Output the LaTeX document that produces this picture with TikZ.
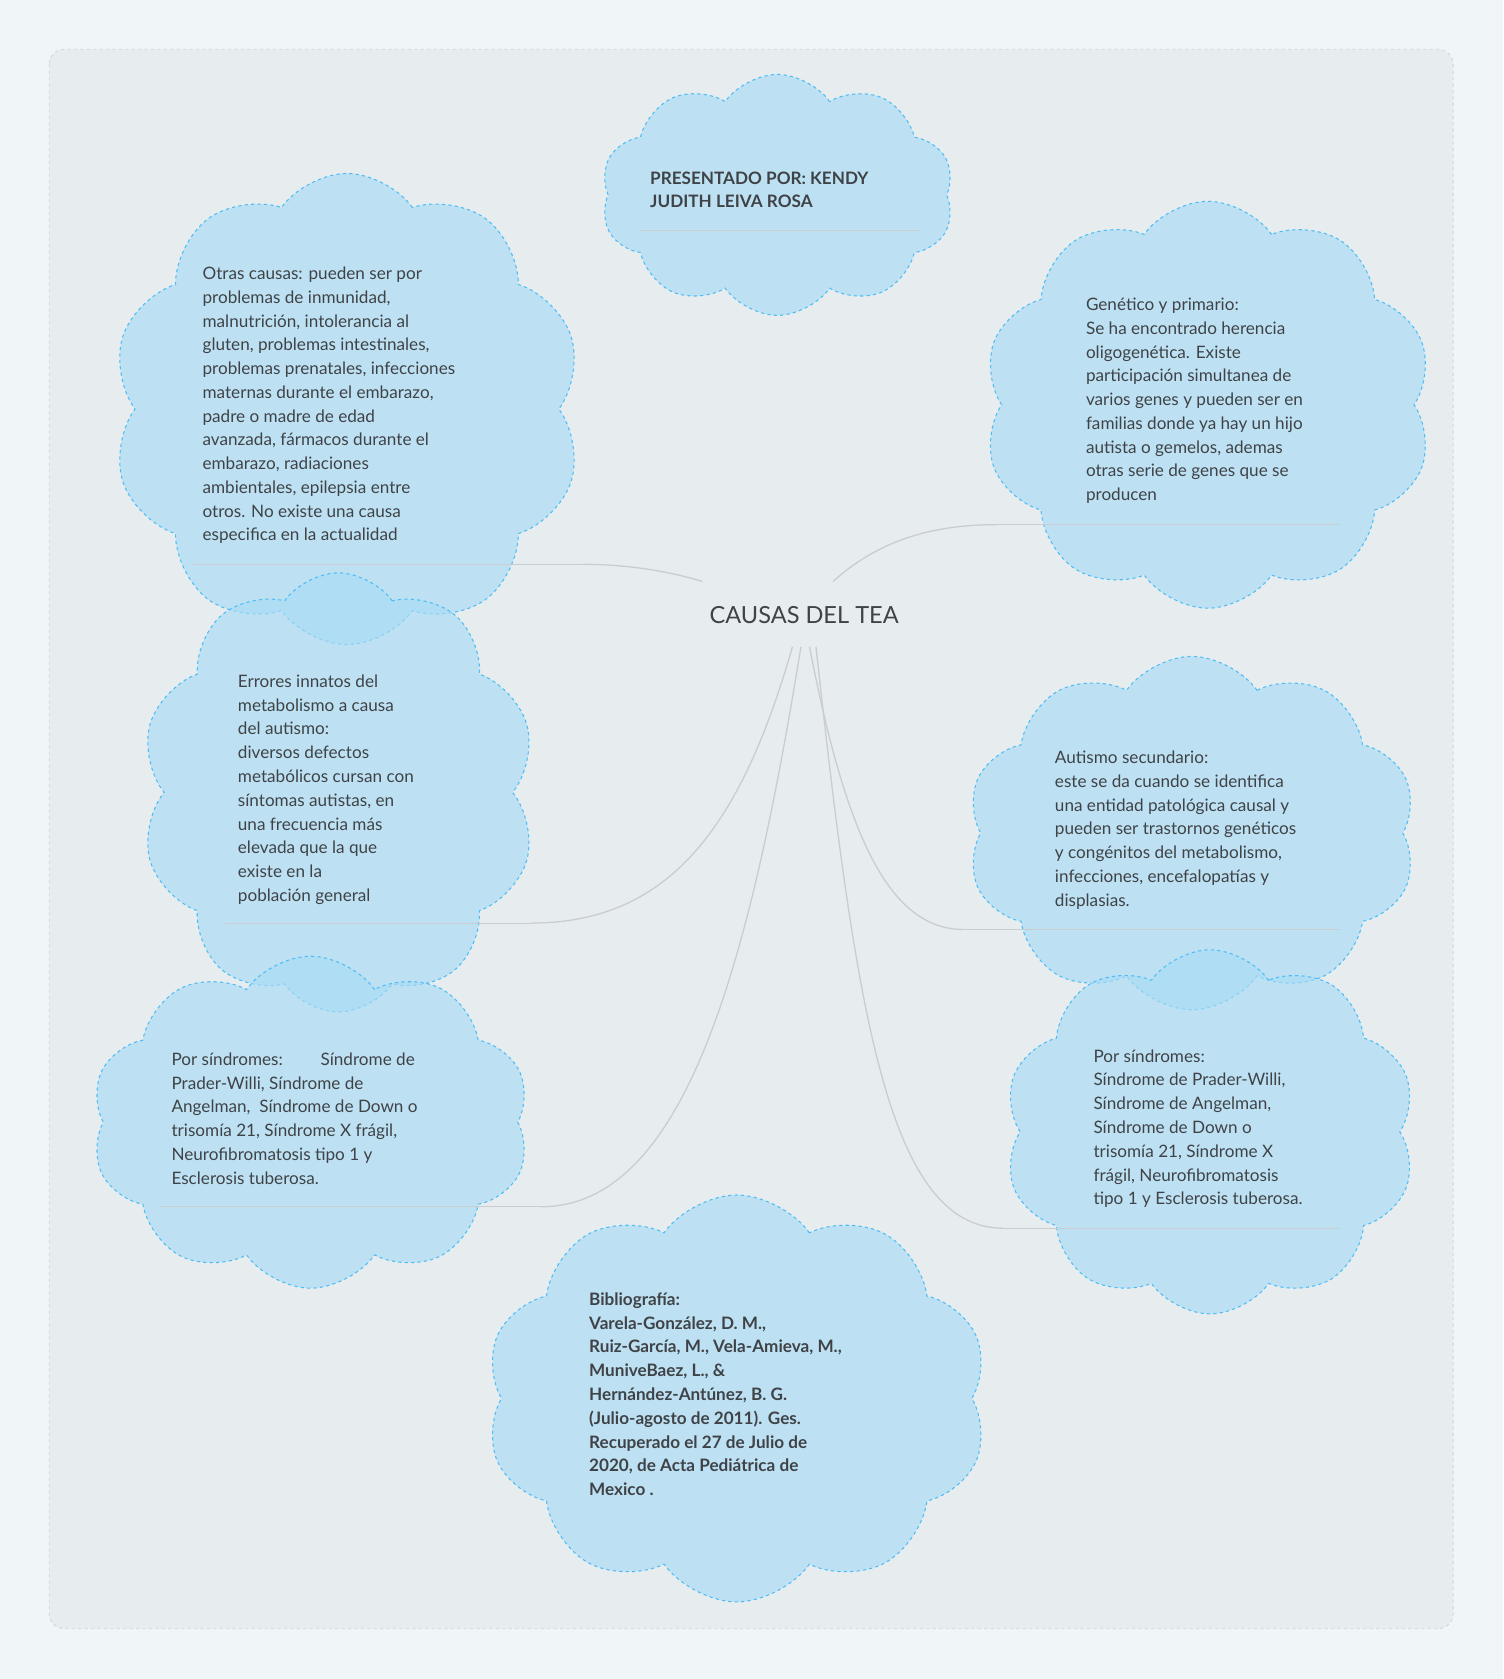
\documentclass[tikz,border=0pt]{standalone}
\usepackage{fontspec}
\setmainfont{Lato}
\usetikzlibrary{shapes.symbols}
\definecolor{pagebg}{HTML}{F0F5F8}
\definecolor{panel}{HTML}{E7ECEF}
\definecolor{cloudfill}{HTML}{A8DCF6}
\definecolor{cloudline}{HTML}{4FBDF5}
\definecolor{txt}{HTML}{3F4347}
\definecolor{conn}{HTML}{C9CDD0}
\tikzset{
 cl/.style={cloud, cloud puffs=10, cloud puff arc=110, draw=cloudline, dashed, line width=1pt,
   fill=cloudfill, fill opacity=0.65, inner sep=0pt},
 tx/.style={anchor=north west, align=left, text=txt, font=\fontsize{16}{22.2}\selectfont, inner sep=0pt},
 ul/.style={draw=conn, line width=0.8pt},
 cn/.style={draw=conn, line width=1.2pt}
}
\begin{document}
\begin{tikzpicture}[x=1pt,y=-1pt]
\fill[pagebg] (0,0) rectangle (1404,1568);
\useasboundingbox (0,0) rectangle (1404,1568);
\draw[panel!80!gray, dashed, fill=panel, rounded corners=14pt, line width=0.8pt] (46,46) rectangle (1357,1521);

\node[cl, minimum width=330pt, minimum height=225pt] (c1) at (726,182) {};
\node[cl, minimum width=440pt, minimum height=440pt] (c2) at (324,382) {};
\node[cl, minimum width=420pt, minimum height=380pt] (c3) at (1128,378) {};
\node[cl, minimum width=370pt, minimum height=410pt] (c4) at (316,740) {};
\node[cl, minimum width=420pt, minimum height=330pt] (c5) at (1113,778) {};
\node[cl, minimum width=410pt, minimum height=310pt] (c6) at (290,1048) {};
\node[cl, minimum width=385pt, minimum height=340pt] (c7) at (1130,1057) {};
\node[cl, minimum width=470pt, minimum height=380pt] (c8) at (688,1306) {};

\node[tx, font=\fontsize{16}{22.2}\bfseries\selectfont] (t1) at (607,160) {PRESENTADO POR: KENDY\\JUDITH LEIVA ROSA};
\node[tx] (t2) at (189,249) {Otras causas: pueden ser por\\problemas de inmunidad,\\malnutrición, intolerancia al\\gluten, problemas intestinales,\\problemas prenatales, infecciones\\maternas durante el embarazo,\\padre o madre de edad\\avanzada, fármacos durante el\\embarazo, radiaciones\\ambientales, epilepsia entre\\otros. No existe una causa\\especifica en la actualidad};
\node[tx] (t3) at (1014,278) {Genético y primario:\\Se ha encontrado herencia\\oligogenética. Existe\\participación simultanea de\\varios genes y pueden ser en\\familias donde ya hay un hijo\\autista o gemelos, ademas\\otras serie de genes que se\\producen};
\node[tx] (t4) at (222,630) {Errores innatos del\\metabolismo a causa\\del autismo:\\diversos defectos\\metabólicos cursan con\\síntomas autistas, en\\una frecuencia más\\elevada que la que\\existe en la\\población general};
\node[tx] (t5) at (985,701) {Autismo secundario:\\este se da cuando se identifica\\una entidad patológica causal y\\pueden ser trastornos genéticos\\y congénitos del metabolismo,\\infecciones, encefalopatías y\\displasias.};
\node[tx] (t6) at (160,983) {Por síndromes:\hspace{2.2em}Síndrome de\\Prader-Willi, Síndrome de\\Angelman,\ \ Síndrome de Down o\\trisomía 21, Síndrome X frágil,\\Neurofibromatosis tipo 1 y\\Esclerosis tuberosa.};
\node[tx] (t7) at (1021,980) {Por síndromes:\\Síndrome de Prader-Willi,\\Síndrome de Angelman,\\Síndrome de Down o\\trisomía 21, Síndrome X\\frágil, Neurofibromatosis\\tipo 1 y Esclerosis tuberosa.};
\node[tx, font=\fontsize{16}{22.2}\bfseries\selectfont] (t8) at (550,1207) {Bibliografía:\\Varela-González, D. M.,\\Ruiz-García, M., Vela-Amieva, M.,\\MuniveBaez, L., \&\\Hernández-Antúnez, B. G.\\(Julio-agosto de 2011). Ges.\\Recuperado el 27 de Julio de\\2020, de Acta Pediátrica de\\Mexico .};

\node[text=txt, font=\fontsize{22}{26}\selectfont] (m) at (751,574) {CAUSAS DEL TEA};

% underlines
\coordinate (u1a) at (598,215); \coordinate (u1b) at (858,215);
\coordinate (u2a) at (545,527); \coordinate (u2b) at (180,527);
\coordinate (u3a) at (930,490); \coordinate (u3b) at (1250,490);
\coordinate (u4a) at (496,862); \coordinate (u4b) at (210,862);
\coordinate (u5a) at (900,868); \coordinate (u5b) at (1250,868);
\coordinate (u6a) at (505,1127); \coordinate (u6b) at (150,1127);
\coordinate (u7a) at (937,1147); \coordinate (u7b) at (1250,1147);
\foreach \i in {1,...,7} {\draw[ul] (u\i a) -- (u\i b);}

% connectors
\coordinate (m1) at (656,543); \coordinate (m2) at (778,543);
\coordinate (m3) at (740,604); \coordinate (m4) at (748,604);
\coordinate (m5) at (756,604); \coordinate (m6) at (762,604);
\draw[cn] (m1) .. controls (620,532) and (580,527) .. (u2a);
\draw[cn] (m2) .. controls (820,505) and (870,490) .. (u3a);
\draw[cn] (m3) .. controls (690,780) and (620,862) .. (u4a);
\draw[cn] (m4) .. controls (700,900) and (640,1127) .. (u6a);
\draw[cn] (m5) .. controls (790,780) and (830,868) .. (u5a);
\draw[cn] (m6) .. controls (800,950) and (830,1147) .. (u7a);
\end{tikzpicture}
\end{document}
